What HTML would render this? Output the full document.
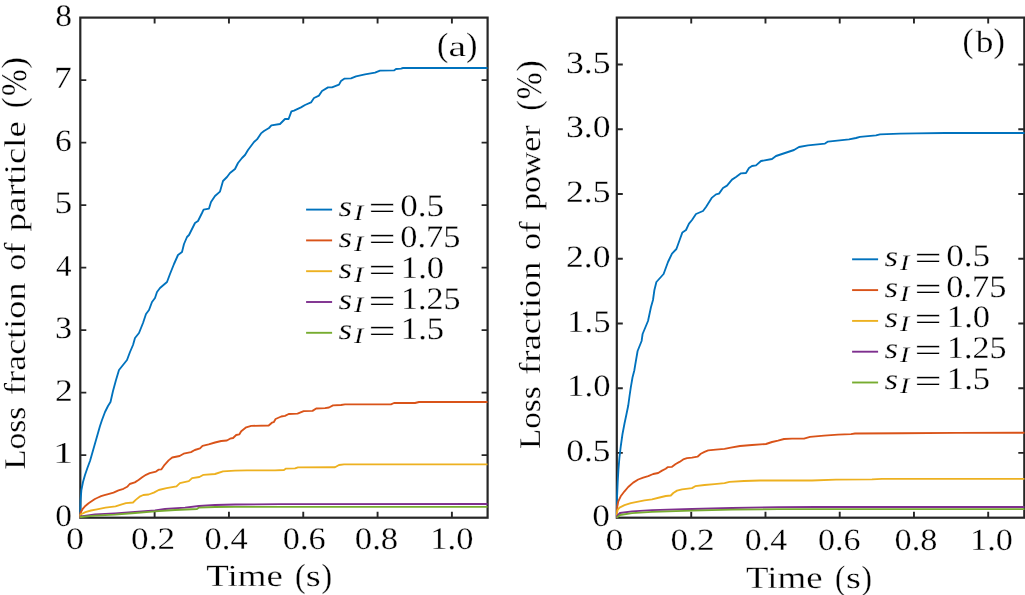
<!DOCTYPE html>
<html><head><meta charset="utf-8"><title>Loss fraction</title>
<style>html,body{margin:0;padding:0;background:#fff;overflow:hidden}svg{display:block}</style></head>
<body>
<svg width="1025" height="595" viewBox="0 0 1025 595" font-family="'Liberation Serif', serif" font-size="30px" fill="#000" text-rendering="geometricPrecision">
<rect width="1025" height="595" fill="#fff"/>
<clipPath id="ca"><rect x="78" y="16" width="410.6" height="503"/></clipPath><clipPath id="cb"><rect x="614.5" y="16" width="411" height="503"/></clipPath>
<rect x="80.30" y="17.60" width="407.30" height="500.10" fill="none" stroke="#262626" stroke-width="2.2"/>
<path d="M154.62 517.70v-6.00M154.62 17.60v6.00M228.94 517.70v-6.00M228.94 17.60v6.00M303.26 517.70v-6.00M303.26 17.60v6.00M377.58 517.70v-6.00M377.58 17.60v6.00M451.90 517.70v-6.00M451.90 17.60v6.00M80.30 455.15h6.00M487.60 455.15h-6.00M80.30 392.65h6.00M487.60 392.65h-6.00M80.30 330.15h6.00M487.60 330.15h-6.00M80.30 267.65h6.00M487.60 267.65h-6.00M80.30 205.15h6.00M487.60 205.15h-6.00M80.30 142.65h6.00M487.60 142.65h-6.00M80.30 80.15h6.00M487.60 80.15h-6.00" stroke="#262626" stroke-width="1.90" fill="none"/>
<rect x="616.80" y="17.60" width="407.50" height="500.10" fill="none" stroke="#262626" stroke-width="2.2"/>
<path d="M691.24 517.70v-6.00M691.24 17.60v6.00M765.48 517.70v-6.00M765.48 17.60v6.00M839.72 517.70v-6.00M839.72 17.60v6.00M913.96 517.70v-6.00M913.96 17.60v6.00M988.20 517.70v-6.00M988.20 17.60v6.00M616.80 452.91h6.00M1024.30 452.91h-6.00M616.80 388.18h6.00M1024.30 388.18h-6.00M616.80 323.44h6.00M1024.30 323.44h-6.00M616.80 258.71h6.00M1024.30 258.71h-6.00M616.80 193.97h6.00M1024.30 193.97h-6.00M616.80 129.24h6.00M1024.30 129.24h-6.00M616.80 64.50h6.00M1024.30 64.50h-6.00" stroke="#262626" stroke-width="1.90" fill="none"/>
<g clip-path="url(#ca)">
<polyline fill="none" stroke="#0072BD" stroke-width="1.85" stroke-linejoin="round" points="80.3,517.5 80.2,512.0 80.6,500.0 81.4,490.0 83.0,482.0 85.0,475.0 87.4,468.0 90.0,461.0 92.0,454.0 94.0,447.0 96.0,440.0 98.0,433.0 100.0,426.0 102.0,420.0 105.0,412.0 108.0,406.0 110.5,402.0 113.0,391.0 116.0,380.0 119.0,370.0 123.0,365.0 127.0,360.0 130.0,352.0 133.0,345.0 135.0,338.0 139.0,333.0 143.0,323.0 146.0,314.0 149.0,310.0 152.0,302.0 155.0,298.0 157.0,292.0 160.0,288.0 167.0,282.0 170.0,274.0 174.0,264.0 178.0,255.0 182.0,252.0 184.0,244.0 187.0,237.0 189.0,235.0 195.0,223.0 198.0,221.0 202.0,213.0 203.6,209.6 209.0,208.6 211.0,202.0 215.0,196.0 220.0,191.6 223.0,181.0 227.0,177.0 230.0,173.0 235.0,169.0 238.0,163.0 242.0,158.0 245.0,155.0 248.0,150.0 254.0,142.0 257.0,139.4 261.0,133.4 264.0,131.0 269.0,128.0 271.4,125.4 280.0,124.0 285.0,119.0 288.6,119.0 291.4,111.4 294.0,110.6 301.0,107.4 305.0,105.0 311.0,102.4 314.0,98.0 319.0,95.6 322.0,91.0 328.0,87.4 332.0,87.4 339.0,84.6 341.0,81.0 344.6,78.6 351.0,78.4 356.0,76.4 365.0,74.4 375.0,72.6 380.0,70.6 394.0,70.4 396.0,69.0 401.0,68.6 403.0,68.0 430.0,68.0 487.5,68.0"/>
<polyline fill="none" stroke="#D95319" stroke-width="1.85" stroke-linejoin="round" points="80.3,517.5 80.4,513.0 82.5,509.2 85.6,505.7 88.6,503.2 91.9,501.0 94.9,499.0 98.1,497.5 101.1,496.2 104.4,495.2 107.3,494.3 113.5,492.6 118.5,490.4 123.5,488.8 127.2,486.8 129.7,484.0 134.8,482.4 138.5,480.0 142.2,477.3 146.0,474.8 149.7,473.1 156.0,471.6 158.5,469.7 161.5,469.3 164.6,464.8 168.6,460.4 172.2,457.5 179.6,456.0 183.6,453.7 191.0,452.1 194.8,450.0 200.0,448.4 202.5,445.8 208.7,444.4 215.0,442.5 221.2,441.0 226.9,440.5 230.0,438.7 233.1,438.0 236.2,435.0 239.4,434.3 241.2,431.2 246.2,427.3 251.2,425.9 268.7,425.5 271.9,422.7 273.7,422.2 275.6,419.0 281.2,416.5 285.0,415.9 288.7,414.0 297.5,413.7 303.7,411.2 312.5,410.9 316.2,408.5 325.0,408.2 329.0,407.5 333.0,405.4 341.0,405.0 345.0,404.4 391.0,404.4 394.0,403.0 415.0,403.0 419.0,402.0 487.5,402.0"/>
<polyline fill="none" stroke="#EDB120" stroke-width="1.85" stroke-linejoin="round" points="80.3,517.5 80.5,514.5 85.4,512.1 91.0,510.5 97.0,509.3 105.5,507.7 115.5,506.4 121.0,504.7 126.0,503.2 133.0,502.5 136.0,499.6 139.6,496.7 143.3,495.0 148.7,494.5 153.8,492.6 158.7,490.0 166.5,488.2 176.5,486.3 179.9,483.1 188.8,481.1 192.1,478.1 199.4,477.0 203.5,474.8 215.0,474.0 223.0,471.4 235.0,470.6 247.0,470.4 275.0,470.4 284.0,470.0 286.0,468.6 295.0,468.4 298.0,467.4 335.0,467.2 339.0,465.0 344.0,464.4 487.5,464.4"/>
<polyline fill="none" stroke="#7E2F8E" stroke-width="1.85" stroke-linejoin="round" points="80.3,517.5 80.6,516.4 95.0,514.4 115.0,513.4 135.0,512.0 155.0,510.4 165.0,509.0 185.0,507.6 199.0,506.0 215.0,505.0 235.0,504.5 280.0,504.1 487.5,504.0"/>
<polyline fill="none" stroke="#77AC30" stroke-width="1.85" stroke-linejoin="round" points="80.3,517.5 80.6,517.0 95.0,515.6 115.0,514.6 135.0,513.0 155.0,511.4 175.0,510.0 197.0,509.0 199.0,507.6 215.0,507.0 235.0,506.8 487.5,506.8"/>
</g><g clip-path="url(#cb)">
<polyline fill="none" stroke="#0072BD" stroke-width="1.85" stroke-linejoin="round" points="616.9,517.5 616.8,512.0 617.1,496.0 617.7,482.0 618.4,470.0 619.4,458.0 620.8,446.0 622.5,434.0 624.5,423.5 626.4,414.5 628.2,405.8 629.6,395.5 630.8,387.3 632.5,377.5 634.3,370.5 635.2,365.0 637.6,351.0 641.6,341.0 642.6,334.0 648.0,321.0 651.0,307.0 653.0,300.0 654.4,290.0 656.4,282.0 663.6,274.0 668.0,262.0 672.0,253.6 676.4,249.0 680.0,239.0 682.4,232.4 686.0,230.0 689.0,223.6 692.0,220.0 696.0,214.0 703.0,211.0 706.0,207.0 712.0,197.6 716.0,194.4 719.0,193.6 723.0,188.0 727.0,185.6 732.0,179.6 736.0,177.0 741.0,173.3 746.0,173.0 749.0,168.0 752.0,166.0 756.0,165.4 761.0,161.0 772.0,159.0 776.0,156.0 794.0,150.0 799.0,147.0 808.0,145.4 825.0,143.6 828.0,141.6 849.0,139.4 856.0,138.0 860.0,136.8 876.0,135.4 880.0,134.4 900.0,133.6 916.0,133.3 945.0,133.0 1024.5,133.0"/>
<polyline fill="none" stroke="#D95319" stroke-width="1.85" stroke-linejoin="round" points="616.9,517.5 616.9,512.0 617.2,507.0 618.3,501.3 620.7,496.3 624.5,491.3 628.2,487.0 633.2,482.6 638.2,479.5 643.2,477.6 648.2,476.2 653.2,474.0 658.2,473.0 662.0,470.6 665.7,468.7 667.6,467.2 672.0,466.8 675.7,464.0 679.5,461.9 683.2,459.4 687.0,458.2 692.0,457.6 697.5,456.7 700.8,453.8 704.5,451.9 708.2,450.4 715.8,449.6 724.5,448.9 730.8,447.7 740.0,446.0 752.0,445.0 766.0,444.0 772.0,442.0 778.0,440.6 784.0,439.0 792.0,438.6 804.0,438.6 810.0,436.8 824.0,435.6 838.0,434.6 851.0,434.1 855.0,433.5 900.0,433.2 956.0,432.8 1024.5,432.7"/>
<polyline fill="none" stroke="#EDB120" stroke-width="1.85" stroke-linejoin="round" points="616.9,517.5 617.0,513.0 617.6,510.0 619.5,507.6 624.5,505.2 630.8,503.2 637.0,501.9 644.5,500.4 652.0,499.4 659.5,497.5 665.8,496.0 670.8,495.5 673.3,493.0 677.0,490.6 682.0,489.4 692.0,488.1 695.2,486.2 704.5,485.0 714.5,484.1 724.5,483.1 729.5,481.9 744.0,481.0 760.0,480.5 812.0,480.5 836.0,479.6 872.0,479.4 882.0,478.8 1024.5,478.8"/>
<polyline fill="none" stroke="#7E2F8E" stroke-width="1.85" stroke-linejoin="round" points="616.9,517.5 617.2,516.0 620.0,513.0 632.0,511.3 652.0,510.1 692.0,509.0 732.0,508.0 778.0,507.2 817.0,507.0 1024.5,507.0"/>
<polyline fill="none" stroke="#77AC30" stroke-width="1.85" stroke-linejoin="round" points="616.9,517.5 617.2,517.2 620.0,515.0 632.0,513.1 652.0,511.8 692.0,510.6 732.0,509.7 778.0,509.2 817.0,509.1 1024.5,509.1"/>
</g>
<line x1="306.1" y1="209.6" x2="332.1" y2="209.6" stroke="#0072BD" stroke-width="1.9"/>
<line x1="306.1" y1="240.4" x2="332.1" y2="240.4" stroke="#D95319" stroke-width="1.9"/>
<line x1="306.1" y1="271.2" x2="332.1" y2="271.2" stroke="#EDB120" stroke-width="1.9"/>
<line x1="306.1" y1="302.0" x2="332.1" y2="302.0" stroke="#7E2F8E" stroke-width="1.9"/>
<line x1="306.1" y1="332.8" x2="332.1" y2="332.8" stroke="#77AC30" stroke-width="1.9"/>
<line x1="852.1" y1="259.3" x2="878.1" y2="259.3" stroke="#0072BD" stroke-width="1.9"/>
<line x1="852.1" y1="290.1" x2="878.1" y2="290.1" stroke="#D95319" stroke-width="1.9"/>
<line x1="852.1" y1="320.9" x2="878.1" y2="320.9" stroke="#EDB120" stroke-width="1.9"/>
<line x1="852.1" y1="351.7" x2="878.1" y2="351.7" stroke="#7E2F8E" stroke-width="1.9"/>
<line x1="852.1" y1="382.5" x2="878.1" y2="382.5" stroke="#77AC30" stroke-width="1.9"/>
<g><text transform="translate(55.35,525.74) scale(1.1162,1.0351)" stroke="#fff" stroke-width="0.25" vector-effect="non-scaling-stroke">0</text>
<text transform="translate(52.99,463.25) scale(1.3612,1.0127)" stroke="#fff" stroke-width="0.25" vector-effect="non-scaling-stroke">1</text>
<text transform="translate(54.96,401.00) scale(1.1874,1.0482)" stroke="#fff" stroke-width="0.25" vector-effect="non-scaling-stroke">2</text>
<text transform="translate(55.03,338.24) scale(1.1389,1.0351)" stroke="#fff" stroke-width="0.25" vector-effect="non-scaling-stroke">3</text>
<text transform="translate(55.97,275.75) scale(1.0335,1.0127)" stroke="#fff" stroke-width="0.25" vector-effect="non-scaling-stroke">4</text>
<text transform="translate(54.42,213.24) scale(1.1838,1.0482)" stroke="#fff" stroke-width="0.25" vector-effect="non-scaling-stroke">5</text>
<text transform="translate(55.10,150.74) scale(1.1138,1.0351)" stroke="#fff" stroke-width="0.25" vector-effect="non-scaling-stroke">6</text>
<text transform="translate(54.12,88.25) scale(1.1834,1.0256)" stroke="#fff" stroke-width="0.25" vector-effect="non-scaling-stroke">7</text>
<text transform="translate(55.35,25.74) scale(1.1162,1.0351)" stroke="#fff" stroke-width="0.25" vector-effect="non-scaling-stroke">8</text>
<text transform="translate(66.00,548.73) scale(1.2000,1.0426)" stroke="#fff" stroke-width="0.25" vector-effect="non-scaling-stroke">0</text>
<text transform="translate(131.03,548.74) scale(1.1739,1.0426)" stroke="#fff" stroke-width="0.25" vector-effect="non-scaling-stroke">0.2</text>
<text transform="translate(204.57,548.74) scale(1.1469,1.0426)" stroke="#fff" stroke-width="0.25" vector-effect="non-scaling-stroke">0.4</text>
<text transform="translate(282.82,548.74) scale(1.1418,1.0426)" stroke="#fff" stroke-width="0.25" vector-effect="non-scaling-stroke">0.6</text>
<text transform="translate(354.80,548.74) scale(1.1571,1.0426)" stroke="#fff" stroke-width="0.25" vector-effect="non-scaling-stroke">0.8</text>
<text transform="translate(430.34,548.74) scale(1.1493,1.0426)" stroke="#fff" stroke-width="0.25" vector-effect="non-scaling-stroke">1.0</text>
<text transform="translate(206.33,586.00) scale(1.2299,1.0256)" stroke="#fff" stroke-width="0.25" vector-effect="non-scaling-stroke">Time</text> <text transform="translate(294.91,586.78) scale(1.0603,1.1228)" stroke="#fff" stroke-width="0.25" vector-effect="non-scaling-stroke">(</text><text transform="translate(305.85,586.25) scale(1.2835,1.0175)" stroke="#fff" stroke-width="0.25" vector-effect="non-scaling-stroke">s</text><text transform="translate(321.43,586.78) scale(1.0603,1.1228)" stroke="#fff" stroke-width="0.25" vector-effect="non-scaling-stroke">)</text>
<text transform="translate(437.03,56.00) scale(1.1389,1.1228)" stroke="#fff" stroke-width="0.25" vector-effect="non-scaling-stroke">(</text><text transform="translate(448.61,55.51) scale(1.3179,0.9615)" stroke="#fff" stroke-width="0.25" vector-effect="non-scaling-stroke">a</text><text transform="translate(466.08,56.20) scale(1.1537,1.1322)" stroke="#fff" stroke-width="0.25" vector-effect="non-scaling-stroke">)</text>
<text transform="translate(25.25,469.86) rotate(-90) scale(1.1129,1.0038)" stroke="#fff" stroke-width="0.25" vector-effect="non-scaling-stroke">Loss</text> <text transform="translate(25.25,394.96) rotate(-90) scale(1.2055,1.0038)" stroke="#fff" stroke-width="0.25" vector-effect="non-scaling-stroke">fraction</text> <text transform="translate(25.25,270.39) rotate(-90) scale(1.1158,1.0038)" stroke="#fff" stroke-width="0.25" vector-effect="non-scaling-stroke">of</text> <text transform="translate(25.25,231.39) rotate(-90) scale(1.2255,1.0038)" stroke="#fff" stroke-width="0.25" vector-effect="non-scaling-stroke">particle</text> <text transform="translate(25.24,108.13) rotate(-90) scale(1.0870,1.1284)" stroke="#fff" stroke-width="0.25" vector-effect="non-scaling-stroke">(</text><text transform="translate(26.18,96.08) rotate(-90) scale(1.0682,1.2025)" stroke="#fff" stroke-width="0.25" vector-effect="non-scaling-stroke">%</text><text transform="translate(25.43,68.42) rotate(-90) scale(1.1474,1.1378)" stroke="#fff" stroke-width="0.25" vector-effect="non-scaling-stroke">)</text>
<text transform="translate(566.28,461.07) scale(1.1800,1.0351)" stroke="#fff" stroke-width="0.25" vector-effect="non-scaling-stroke">0.5</text>
<text transform="translate(567.07,396.40) scale(1.1582,1.0351)" stroke="#fff" stroke-width="0.25" vector-effect="non-scaling-stroke">1.0</text>
<text transform="translate(567.07,331.72) scale(1.1582,1.0475)" stroke="#fff" stroke-width="0.25" vector-effect="non-scaling-stroke">1.5</text>
<text transform="translate(565.98,266.80) scale(1.1885,1.0351)" stroke="#fff" stroke-width="0.25" vector-effect="non-scaling-stroke">2.0</text>
<text transform="translate(565.98,202.12) scale(1.1885,1.0351)" stroke="#fff" stroke-width="0.25" vector-effect="non-scaling-stroke">2.5</text>
<text transform="translate(565.93,137.44) scale(1.1899,1.0351)" stroke="#fff" stroke-width="0.25" vector-effect="non-scaling-stroke">3.0</text>
<text transform="translate(565.93,72.76) scale(1.1899,1.0351)" stroke="#fff" stroke-width="0.25" vector-effect="non-scaling-stroke">3.5</text>
<text transform="translate(592.28,525.74) scale(1.1761,1.0351)" stroke="#fff" stroke-width="0.25" vector-effect="non-scaling-stroke">0</text>
<text transform="translate(605.50,550.24) scale(1.2000,1.0275)" stroke="#fff" stroke-width="0.25" vector-effect="non-scaling-stroke">0</text>
<text transform="translate(670.53,550.24) scale(1.1739,1.0275)" stroke="#fff" stroke-width="0.25" vector-effect="non-scaling-stroke">0.2</text>
<text transform="translate(744.84,550.24) scale(1.1259,1.0275)" stroke="#fff" stroke-width="0.25" vector-effect="non-scaling-stroke">0.4</text>
<text transform="translate(818.08,550.24) scale(1.1348,1.0275)" stroke="#fff" stroke-width="0.25" vector-effect="non-scaling-stroke">0.6</text>
<text transform="translate(894.57,550.24) scale(1.1429,1.0275)" stroke="#fff" stroke-width="0.25" vector-effect="non-scaling-stroke">0.8</text>
<text transform="translate(970.11,550.24) scale(1.1418,1.0275)" stroke="#fff" stroke-width="0.25" vector-effect="non-scaling-stroke">1.0</text>
<text transform="translate(746.11,588.00) scale(1.2289,1.0360)" stroke="#fff" stroke-width="0.25" vector-effect="non-scaling-stroke">Time</text> <text transform="translate(834.96,588.71) scale(1.0271,1.1322)" stroke="#fff" stroke-width="0.25" vector-effect="non-scaling-stroke">(</text><text transform="translate(845.90,588.24) scale(1.2759,1.0175)" stroke="#fff" stroke-width="0.25" vector-effect="non-scaling-stroke">s</text><text transform="translate(861.45,588.52) scale(1.0470,1.1228)" stroke="#fff" stroke-width="0.25" vector-effect="non-scaling-stroke">)</text>
<text transform="translate(962.60,52.42) scale(1.0914,1.1378)" stroke="#fff" stroke-width="0.25" vector-effect="non-scaling-stroke">(</text><text transform="translate(975.71,51.99) scale(1.1780,1.0215)" stroke="#fff" stroke-width="0.25" vector-effect="non-scaling-stroke">b</text><text transform="translate(993.58,52.42) scale(1.1474,1.1378)" stroke="#fff" stroke-width="0.25" vector-effect="non-scaling-stroke">)</text>
<text transform="translate(540.25,449.09) rotate(-90) scale(1.1083,1.0038)" stroke="#fff" stroke-width="0.25" vector-effect="non-scaling-stroke">Loss</text> <text transform="translate(540.25,374.49) rotate(-90) scale(1.2087,1.0038)" stroke="#fff" stroke-width="0.25" vector-effect="non-scaling-stroke">fraction</text> <text transform="translate(540.25,249.91) rotate(-90) scale(1.1411,1.0038)" stroke="#fff" stroke-width="0.25" vector-effect="non-scaling-stroke">of</text> <text transform="translate(540.25,210.09) rotate(-90) scale(1.1311,1.0038)" stroke="#fff" stroke-width="0.25" vector-effect="non-scaling-stroke">power</text> <text transform="translate(540.42,110.84) rotate(-90) scale(1.0667,1.1379)" stroke="#fff" stroke-width="0.25" vector-effect="non-scaling-stroke">(</text><text transform="translate(540.96,99.33) rotate(-90) scale(1.0748,1.2025)" stroke="#fff" stroke-width="0.25" vector-effect="non-scaling-stroke">%</text><text transform="translate(540.42,71.40) rotate(-90) scale(1.1279,1.1379)" stroke="#fff" stroke-width="0.25" vector-effect="non-scaling-stroke">)</text>
<text transform="translate(338.39,216.00) scale(1.1702,0.9720)" font-style="italic" stroke="#fff" stroke-width="0.25" vector-effect="non-scaling-stroke">s</text><text transform="translate(354.00,220.00) scale(0.9324,0.7436)" font-style="italic" stroke="#fff" stroke-width="0.25" vector-effect="non-scaling-stroke">I</text> <text transform="translate(368.56,219.20) scale(1.6074,1.1106)" stroke="#fff" stroke-width="0.25" vector-effect="non-scaling-stroke">=</text> <text transform="translate(400.30,216.24) scale(1.1700,1.0426)" stroke="#fff" stroke-width="0.25" vector-effect="non-scaling-stroke">0.5</text>
<text transform="translate(338.39,246.76) scale(1.1702,0.9720)" font-style="italic" stroke="#fff" stroke-width="0.25" vector-effect="non-scaling-stroke">s</text><text transform="translate(354.00,250.74) scale(0.9324,0.7436)" font-style="italic" stroke="#fff" stroke-width="0.25" vector-effect="non-scaling-stroke">I</text> <text transform="translate(368.56,249.95) scale(1.6074,1.1106)" stroke="#fff" stroke-width="0.25" vector-effect="non-scaling-stroke">=</text> <text transform="translate(400.32,246.99) scale(1.1460,1.0426)" stroke="#fff" stroke-width="0.25" vector-effect="non-scaling-stroke">0.75</text>
<text transform="translate(338.39,277.76) scale(1.1702,0.9720)" font-style="italic" stroke="#fff" stroke-width="0.25" vector-effect="non-scaling-stroke">s</text><text transform="translate(354.00,281.72) scale(0.9324,0.7436)" font-style="italic" stroke="#fff" stroke-width="0.25" vector-effect="non-scaling-stroke">I</text> <text transform="translate(368.56,280.93) scale(1.6074,1.1106)" stroke="#fff" stroke-width="0.25" vector-effect="non-scaling-stroke">=</text> <text transform="translate(400.83,277.74) scale(1.1537,1.0426)" stroke="#fff" stroke-width="0.25" vector-effect="non-scaling-stroke">1.0</text>
<text transform="translate(338.39,308.51) scale(1.1702,0.9720)" font-style="italic" stroke="#fff" stroke-width="0.25" vector-effect="non-scaling-stroke">s</text><text transform="translate(354.00,312.28) scale(0.9324,0.7436)" font-style="italic" stroke="#fff" stroke-width="0.25" vector-effect="non-scaling-stroke">I</text> <text transform="translate(368.56,311.68) scale(1.6074,1.1106)" stroke="#fff" stroke-width="0.25" vector-effect="non-scaling-stroke">=</text> <text transform="translate(400.88,308.73) scale(1.1340,1.0426)" stroke="#fff" stroke-width="0.25" vector-effect="non-scaling-stroke">1.25</text>
<text transform="translate(338.39,339.26) scale(1.1702,0.9720)" font-style="italic" stroke="#fff" stroke-width="0.25" vector-effect="non-scaling-stroke">s</text><text transform="translate(354.00,343.26) scale(0.9324,0.7436)" font-style="italic" stroke="#fff" stroke-width="0.25" vector-effect="non-scaling-stroke">I</text> <text transform="translate(368.56,342.44) scale(1.6074,1.1106)" stroke="#fff" stroke-width="0.25" vector-effect="non-scaling-stroke">=</text> <text transform="translate(400.83,339.49) scale(1.1537,1.0426)" stroke="#fff" stroke-width="0.25" vector-effect="non-scaling-stroke">1.5</text>
<text transform="translate(884.39,265.76) scale(1.1702,0.9720)" font-style="italic" stroke="#fff" stroke-width="0.25" vector-effect="non-scaling-stroke">s</text><text transform="translate(900.00,269.76) scale(0.9324,0.7436)" font-style="italic" stroke="#fff" stroke-width="0.25" vector-effect="non-scaling-stroke">I</text> <text transform="translate(914.56,268.94) scale(1.6074,1.1106)" stroke="#fff" stroke-width="0.25" vector-effect="non-scaling-stroke">=</text> <text transform="translate(946.30,265.99) scale(1.1700,1.0426)" stroke="#fff" stroke-width="0.25" vector-effect="non-scaling-stroke">0.5</text>
<text transform="translate(884.39,296.50) scale(1.1702,0.9720)" font-style="italic" stroke="#fff" stroke-width="0.25" vector-effect="non-scaling-stroke">s</text><text transform="translate(900.00,300.50) scale(0.9324,0.7436)" font-style="italic" stroke="#fff" stroke-width="0.25" vector-effect="non-scaling-stroke">I</text> <text transform="translate(914.56,299.70) scale(1.6074,1.1106)" stroke="#fff" stroke-width="0.25" vector-effect="non-scaling-stroke">=</text> <text transform="translate(946.32,296.74) scale(1.1460,1.0426)" stroke="#fff" stroke-width="0.25" vector-effect="non-scaling-stroke">0.75</text>
<text transform="translate(884.39,327.26) scale(1.1702,0.9720)" font-style="italic" stroke="#fff" stroke-width="0.25" vector-effect="non-scaling-stroke">s</text><text transform="translate(900.00,331.24) scale(0.9324,0.7436)" font-style="italic" stroke="#fff" stroke-width="0.25" vector-effect="non-scaling-stroke">I</text> <text transform="translate(914.56,330.45) scale(1.6074,1.1106)" stroke="#fff" stroke-width="0.25" vector-effect="non-scaling-stroke">=</text> <text transform="translate(946.83,327.49) scale(1.1537,1.0426)" stroke="#fff" stroke-width="0.25" vector-effect="non-scaling-stroke">1.0</text>
<text transform="translate(884.39,358.26) scale(1.1702,0.9720)" font-style="italic" stroke="#fff" stroke-width="0.25" vector-effect="non-scaling-stroke">s</text><text transform="translate(900.00,362.22) scale(0.9324,0.7436)" font-style="italic" stroke="#fff" stroke-width="0.25" vector-effect="non-scaling-stroke">I</text> <text transform="translate(914.56,361.43) scale(1.6074,1.1106)" stroke="#fff" stroke-width="0.25" vector-effect="non-scaling-stroke">=</text> <text transform="translate(946.88,358.24) scale(1.1340,1.0426)" stroke="#fff" stroke-width="0.25" vector-effect="non-scaling-stroke">1.25</text>
<text transform="translate(884.39,389.01) scale(1.1702,0.9720)" font-style="italic" stroke="#fff" stroke-width="0.25" vector-effect="non-scaling-stroke">s</text><text transform="translate(900.00,392.78) scale(0.9324,0.7436)" font-style="italic" stroke="#fff" stroke-width="0.25" vector-effect="non-scaling-stroke">I</text> <text transform="translate(914.56,392.18) scale(1.6074,1.1106)" stroke="#fff" stroke-width="0.25" vector-effect="non-scaling-stroke">=</text> <text transform="translate(946.83,389.23) scale(1.1537,1.0426)" stroke="#fff" stroke-width="0.25" vector-effect="non-scaling-stroke">1.5</text></g>
</svg>
</body></html>
